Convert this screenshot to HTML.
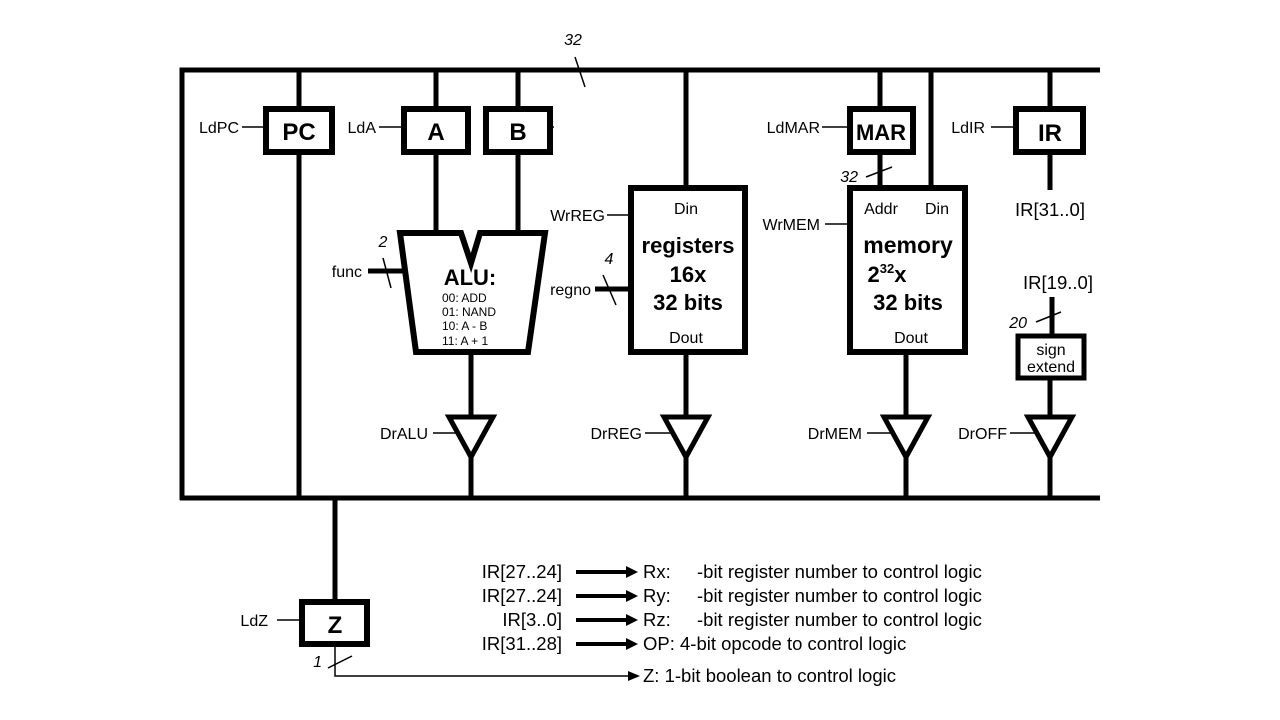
<!DOCTYPE html>
<html><head><meta charset="utf-8"><style>
html,body{margin:0;padding:0;background:#fff;}
svg{display:block;}
text{font-family:"Liberation Sans",Arial,sans-serif;fill:#000;}
</style></head><body>
<svg width="1280" height="720" viewBox="0 0 1280 720" xmlns="http://www.w3.org/2000/svg">
<g stroke="#000" fill="none" stroke-width="5">
<path d="M182,500 V70 H1100"/>
<line x1="180" y1="498" x2="1100" y2="498"/>
<line x1="299" y1="70" x2="299" y2="498"/>
<rect x="266" y="109" width="66" height="43" stroke-width="6" fill="#fff"/>
<line x1="436" y1="70" x2="436" y2="235"/>
<line x1="518" y1="70" x2="518" y2="235"/>
<rect x="404" y="109" width="64" height="43" stroke-width="6" fill="#fff"/>
<rect x="486" y="109" width="64" height="43" stroke-width="6" fill="#fff"/>
<path d="M400,233 L461,233 L471,263 L480,233 L545,233 L528,352 L416,352 Z" stroke-width="6" fill="#fff"/>
<line x1="471" y1="352" x2="471" y2="498"/>
<line x1="368" y1="271" x2="405" y2="271"/>
<line x1="686" y1="70" x2="686" y2="190"/>
<rect x="631" y="188" width="114" height="164" stroke-width="6" fill="#fff"/>
<line x1="686" y1="352" x2="686" y2="498"/>
<line x1="595" y1="289" x2="631" y2="289"/>
<line x1="880" y1="70" x2="880" y2="190"/>
<line x1="931" y1="70" x2="931" y2="190"/>
<rect x="850" y="109" width="63" height="43" stroke-width="6" fill="#fff"/>
<rect x="850" y="188" width="115" height="164" stroke-width="6" fill="#fff"/>
<line x1="906" y1="352" x2="906" y2="498"/>
<line x1="1050" y1="70" x2="1050" y2="190"/>
<rect x="1016" y="109" width="67" height="43" stroke-width="6" fill="#fff"/>
<line x1="1052" y1="297" x2="1052" y2="336"/>
<rect x="1018" y="336" width="66" height="42" stroke-width="5" fill="#fff"/>
<line x1="1050" y1="378" x2="1050" y2="498"/>
<path d="M449,417 L493,417 L471,457 Z" fill="#fff"/>
<path d="M664,417 L708,417 L686,457 Z" fill="#fff"/>
<path d="M884,417 L928,417 L906,457 Z" fill="#fff"/>
<path d="M1028,417 L1072,417 L1050,457 Z" fill="#fff"/>
<line x1="335" y1="498" x2="335" y2="602"/>
<rect x="302" y="602" width="65" height="42" stroke-width="6" fill="#fff"/>
<g stroke-width="4">
<line x1="576" y1="572" x2="628" y2="572"/>
<line x1="576" y1="596" x2="628" y2="596"/>
<line x1="576" y1="620" x2="628" y2="620"/>
<line x1="576" y1="644" x2="628" y2="644"/>
</g>
</g>
<g fill="#000">
<path d="M626,566 L638,572 L626,578 Z"/>
<path d="M626,590 L638,596 L626,602 Z"/>
<path d="M626,614 L638,620 L626,626 Z"/>
<path d="M626,638 L638,644 L626,650 Z"/>
</g>
<g stroke="#000" stroke-width="1.5" fill="none">
<line x1="242" y1="127" x2="266" y2="127"/>
<line x1="379" y1="127" x2="404" y2="127"/>
<line x1="550" y1="127" x2="554" y2="127"/>
<line x1="822" y1="127" x2="850" y2="127"/>
<line x1="991" y1="127" x2="1016" y2="127"/>
<line x1="607" y1="215" x2="631" y2="215"/>
<line x1="825" y1="224" x2="850" y2="224"/>
<line x1="433" y1="433" x2="458" y2="433"/>
<line x1="645" y1="433" x2="672" y2="433"/>
<line x1="867" y1="433" x2="892" y2="433"/>
<line x1="1010" y1="433" x2="1036" y2="433"/>
<line x1="277" y1="620" x2="302" y2="620"/>
<line x1="575" y1="57" x2="585" y2="87"/>
<line x1="383" y1="258" x2="391" y2="288"/>
<line x1="603" y1="275" x2="616" y2="305"/>
<line x1="866" y1="177" x2="892" y2="167"/>
<line x1="1036" y1="322" x2="1061" y2="312"/>
<line x1="328" y1="668" x2="352" y2="656"/>
<path d="M335,644 V676 H630"/>
</g>
<path d="M628,671 L640,676 L628,681 Z" fill="#000"/>
<g font-size="16">
<text x="573" y="45" text-anchor="middle" font-style="italic">32</text>
<text x="239" y="133" text-anchor="end">LdPC</text>
<text x="376" y="133" text-anchor="end">LdA</text>
<text x="820" y="133" text-anchor="end">LdMAR</text>
<text x="985" y="133" text-anchor="end">LdIR</text>
<text x="605" y="221" text-anchor="end">WrREG</text>
<text x="820" y="230" text-anchor="end">WrMEM</text>
<text x="362" y="277" text-anchor="end">func</text>
<text x="383" y="247" text-anchor="middle" font-style="italic">2</text>
<text x="591" y="295" text-anchor="end">regno</text>
<text x="609" y="264" text-anchor="middle" font-style="italic">4</text>
<text x="858" y="182" text-anchor="end" font-style="italic">32</text>
<text x="1027" y="328" text-anchor="end" font-style="italic">20</text>
<text x="322" y="667" text-anchor="end" font-style="italic">1</text>
<text x="428" y="439" text-anchor="end">DrALU</text>
<text x="642" y="439" text-anchor="end">DrREG</text>
<text x="862" y="439" text-anchor="end">DrMEM</text>
<text x="1007" y="439" text-anchor="end">DrOFF</text>
<text x="268" y="626" text-anchor="end">LdZ</text>
<text x="686" y="214" text-anchor="middle">Din</text>
<text x="686" y="343" text-anchor="middle">Dout</text>
<text x="881" y="214" text-anchor="middle">Addr</text>
<text x="937" y="214" text-anchor="middle">Din</text>
<text x="911" y="343" text-anchor="middle">Dout</text>
<text x="1051" y="355" text-anchor="middle">sign</text>
<text x="1051" y="372" text-anchor="middle">extend</text>
</g>
<g font-size="18.5">
<text x="1050" y="216" text-anchor="middle">IR[31..0]</text>
<text x="1058" y="289" text-anchor="middle">IR[19..0]</text>
<text x="562" y="578" text-anchor="end">IR[27..24]</text>
<text x="562" y="602" text-anchor="end">IR[27..24]</text>
<text x="562" y="626" text-anchor="end">IR[3..0]</text>
<text x="562" y="650" text-anchor="end">IR[31..28]</text>
<text x="643" y="578">Rx:</text><text x="697" y="578">-bit register number to control logic</text>
<text x="643" y="602">Ry:</text><text x="697" y="602">-bit register number to control logic</text>
<text x="643" y="626">Rz:</text><text x="697" y="626">-bit register number to control logic</text>
<text x="643" y="650">OP:  4-bit opcode to control logic</text>
<text x="643" y="682">Z:  1-bit boolean to control logic</text>
</g>
<g font-weight="bold" font-size="24" text-anchor="middle">
<text x="299" y="140">PC</text>
<text x="436" y="140">A</text>
<text x="518" y="140">B</text>
<text x="881" y="140" font-size="22">MAR</text>
<text x="1050" y="141">IR</text>
<text x="335" y="633">Z</text>
<text x="470" y="285" font-size="22">ALU:</text>
<text x="688" y="253" font-size="22">registers</text>
<text x="688" y="282" font-size="22">16x</text>
<text x="688" y="310" font-size="22">32 bits</text>
<text x="908" y="253" font-size="23">memory</text>
<text x="887" y="282" font-size="22">2<tspan font-size="13" dy="-9">32</tspan><tspan dy="9">x</tspan></text>
<text x="908" y="310" font-size="22">32 bits</text>
</g>
<g font-size="12">
<text x="442" y="302">00: ADD</text>
<text x="442" y="316">01: NAND</text>
<text x="442" y="330">10: A - B</text>
<text x="442" y="345">11: A + 1</text>
</g>
</svg>
</body></html>
